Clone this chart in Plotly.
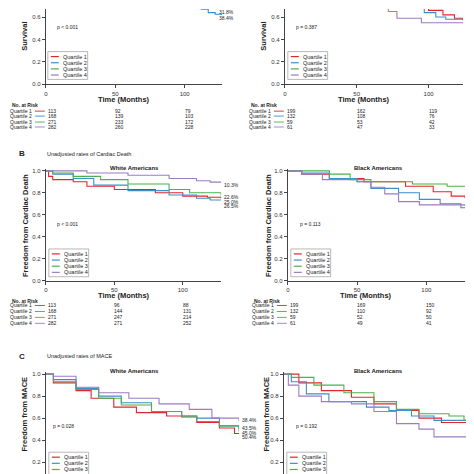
import plotly.graph_objects as go

W = 474
def X(p): return p / W
def Y(p): return 1 - p / W

COLORS = ["#e3262b", "#3b8fcc", "#4cb04f", "#9d7cc1"]
QUARTILES = ["Quartile 1", "Quartile 2", "Quartile 3", "Quartile 4"]

# ---- data: step curves (months, survival) ----
A_L_t = [[0, 10, 30, 60, 90, 110, 127], [0, 10, 30, 60, 90, 112, 117, 122, 127],
         [0, 10, 30, 60, 90, 115, 127], [0, 10, 30, 60, 90, 115, 127]]
A_L_s = [[1, 0.95, 0.88, 0.80, 0.74, 0.70, 0.682], [1, 0.96, 0.9, 0.83, 0.76, 0.67, 0.64, 0.625, 0.616],
         [1, 0.97, 0.92, 0.85, 0.79, 0.74, 0.72], [1, 0.98, 0.95, 0.9, 0.84, 0.77, 0.75]]
A_R_t = [[0, 20, 50, 80, 100, 110, 118, 124], [0, 20, 50, 80, 97, 105, 112, 124],
         [0, 20, 50, 80, 110, 124], [0, 20, 50, 72, 78, 95, 124]]
A_R_s = [[1, 0.93, 0.85, 0.74, 0.66, 0.62, 0.59, 0.571], [1, 0.92, 0.84, 0.73, 0.64, 0.6, 0.58, 0.571],
         [1, 0.95, 0.88, 0.8, 0.72, 0.7], [1, 0.9, 0.8, 0.65, 0.59, 0.55, 0.542]]
B_L_t = [[0, 2, 5, 20, 30, 50, 80, 100, 118, 128], [0, 5, 20, 35, 60, 90, 110, 120, 128],
         [0, 5, 20, 40, 60, 90, 105, 128], [0, 10, 30, 60, 90, 110, 120, 128]]
B_L_s = [[1, 0.95, 0.92, 0.90, 0.86, 0.83, 0.80, 0.77, 0.76, 0.75], [1, 0.97, 0.93, 0.87, 0.82, 0.78, 0.75, 0.735, 0.735],
         [1, 0.98, 0.95, 0.92, 0.88, 0.83, 0.80, 0.774], [1, 1.0, 0.98, 0.96, 0.93, 0.91, 0.897, 0.897]]
B_R_t = [[0, 10, 30, 55, 85, 105, 118, 128], [0, 10, 30, 50, 60, 80, 95, 110, 125, 128],
         [0, 30, 45, 60, 90, 115, 128], [0, 10, 25, 50, 60, 70, 80, 95, 128]]
B_R_s = [[1, 0.97, 0.93, 0.90, 0.86, 0.81, 0.77, 0.75], [1, 0.98, 0.93, 0.90, 0.84, 0.80, 0.74, 0.70, 0.664, 0.664],
         [1, 0.97, 0.92, 0.90, 0.88, 0.86, 0.86], [1, 0.97, 0.92, 0.90, 0.85, 0.79, 0.72, 0.69, 0.681]]
C_L_t = [[0, 5, 20, 30, 45, 60, 80, 90, 100, 115, 125, 128], [0, 5, 20, 35, 50, 70, 90, 100, 115, 128],
         [0, 5, 20, 35, 50, 70, 90, 100, 115, 128], [0, 5, 20, 35, 55, 75, 95, 110, 128]]
C_L_s = [[1, 0.92, 0.85, 0.78, 0.70, 0.65, 0.62, 0.61, 0.56, 0.51, 0.46, 0.46], [1, 0.95, 0.87, 0.80, 0.74, 0.66, 0.62, 0.60, 0.53, 0.48],
         [1, 0.93, 0.86, 0.78, 0.72, 0.66, 0.62, 0.57, 0.53, 0.50], [1, 0.98, 0.88, 0.83, 0.78, 0.73, 0.68, 0.60, 0.575]]
C_R_t = [[0, 10, 25, 45, 60, 75, 90, 105, 128], [0, 5, 15, 30, 55, 70, 85, 100, 125, 128],
         [0, 5, 20, 40, 60, 75, 90, 110, 120, 128], [0, 3, 10, 25, 45, 60, 75, 90, 100, 128]]
C_R_s = [[1, 0.92, 0.85, 0.79, 0.73, 0.67, 0.60, 0.56, 0.52], [1, 0.93, 0.82, 0.75, 0.70, 0.67, 0.62, 0.58, 0.55, 0.55],
         [1, 0.97, 0.90, 0.83, 0.75, 0.68, 0.64, 0.62, 0.58, 0.58], [1, 0.90, 0.80, 0.75, 0.73, 0.66, 0.55, 0.50, 0.43, 0.43]]

A_L_lab = ["31.8%", "38.4%", "", ""]; A_R_lab = ["42.9%", "42.9%", "", "45.8%"]
B_L_lab = ["25.0%", "26.5%", "22.6%", "10.3%"]; B_R_lab = ["25.0%", "33.6%", "14.0%", "31.9%"]
C_L_lab = ["50.4%", "45.0%", "43.5%", "38.4%"]; C_R_lab = ["43.2%", "43.2%", "41.8%", "54.4%"]

RISK_A_L = [[113, 92, 79], [168, 139, 103], [271, 233, 172], [282, 260, 228]]
RISK_A_R = [[199, 162, 119], [132, 108, 76], [59, 53, 42], [61, 47, 33]]
RISK_B_L = [[113, 96, 88], [168, 144, 131], [271, 247, 214], [282, 271, 252]]
RISK_B_R = [[199, 169, 150], [132, 110, 92], [59, 52, 50], [61, 49, 41]]
RISK_TIMES = [0, 50, 100]

panels = [
    dict(t=A_L_t, s=A_L_s, lab=A_L_lab, labx=207, laby=[3, 9, 0, 0], box=(36, 213, 0, 76), xr=[0, 127], yr=[0, 0.672], xline=True,
         ytitle="Survival", ytx=15, yty=27, p="p < 0.001", px=(45, 18), leg=(38, 46), risk=RISK_A_L, ry=(82, 91, 97, [103, 108, 114, 119])),
    dict(t=A_R_t, s=A_R_s, lab=A_R_lab, labx=455, laby=[14, 19, 0, 24], box=(276, 455, 0, 76), xr=[0, 124], yr=[0, 0.672], xline=True,
         ytitle="Survival", ytx=255, yty=27, p="p = 0.387", px=(285, 18), leg=(279, 46), risk=RISK_A_R, ry=(82, 91, 97, [103, 108, 114, 119])),
    dict(t=B_L_t, s=B_L_s, lab=B_L_lab, labx=212, laby=[195, 199, 190, 178], box=(36, 212, 161, 274), xr=[0, 128], yr=[0, 1.02], xline=True,
         ytitle="Freedom from Cardiac Death", ytx=15, yty=218, p="p < 0.001", px=(45, 217), leg=(39, 245), risk=RISK_B_L, ry=(280, 289, 294, [299, 305, 311, 317])),
    dict(t=B_R_t, s=B_R_s, lab=B_R_lab, labx=457, laby=[197, 201, 180, 206], box=(279, 457, 161, 274), xr=[0, 128], yr=[0, 1.02], xline=True,
         ytitle="Freedom from Cardiac Death", ytx=259, yty=218, p="p = 0.113", px=(289, 217), leg=(282, 245), risk=RISK_B_R, ry=(280, 289, 294, [299, 305, 311, 317])),
    dict(t=C_L_t, s=C_L_s, lab=C_L_lab, labx=230, laby=[432, 428, 423, 414], box=(36, 230, 366, 474), xr=[0, 128], yr=[0.047, 1.02], xline=False,
         ytitle="Freedom from MACE", ytx=15, yty=408, p="p = 0.028", px=(41, 421), leg=(39, 450), risk=None),
    dict(t=C_R_t, s=C_R_s, lab=C_R_lab, labx=466, laby=[416, 420, 412, 431], box=(275, 468, 366, 474), xr=[0, 128], yr=[0.047, 1.02], xline=False,
         ytitle="Freedom from MACE", ytx=258, yty=408, p="p = 0.192", px=(285, 421), leg=(278, 450), risk=None),
]

FONT = "Liberation Sans"
fig = go.Figure()
ann = []
shapes = []

def A(x, y, text, size=5.5, bold=False, xanchor="left", color="#222", angle=0):
    ann.append(dict(x=X(x), y=Y(y), xref="paper", yref="paper", text=f"<b>{text}</b>" if bold else text,
                    showarrow=False, xanchor=xanchor, yanchor="middle", textangle=angle,
                    font=dict(size=size, family=FONT, color=color)))

for i, P in enumerate(panels):
    n = i + 1
    xa = "x" if n == 1 else f"x{n}"
    ya = "y" if n == 1 else f"y{n}"
    x0, x1, yt, yb = P["box"]
    for q in range(4):
        fig.add_trace(go.Scatter(x=P["t"][q], y=P["s"][q], mode="lines", line=dict(color=COLORS[q], width=1.1, shape="hv"),
                                 xaxis=xa, yaxis=ya, showlegend=False, hoverinfo="skip"))
        if P["lab"][q]:
            A(P["labx"] + 1, P["laby"][q], P["lab"][q], size=5)
    fig.layout[f"xaxis{'' if n == 1 else n}"] = dict(
        domain=[X(x0), X(x1)], range=P["xr"], anchor=ya, showgrid=False, zeroline=False, showline=P["xline"], linecolor="#444",
        ticks="outside" if P["xline"] else "", ticklen=3, tickcolor="#444", showticklabels=P["xline"], tickvals=[0, 50, 100],
        tickfont=dict(size=6, family=FONT, color="#333"))
    fig.layout[f"yaxis{'' if n == 1 else n}"] = dict(
        domain=[Y(yb), Y(yt)], range=P["yr"], anchor=xa, showgrid=False, zeroline=False, showline=True, linecolor="#444",
        ticks="outside", ticklen=3, tickcolor="#444", tickvals=[0, 0.2, 0.4, 0.6, 0.8, 1.0], tickformat=".1f",
        tickfont=dict(size=6, family=FONT, color="#333"))
    A(P["ytx"], P["yty"], P["ytitle"], size=7.5, bold=True, xanchor="center", angle=-90)
    A(P["px"][0], P["px"][1], P["p"], size=5)
    lx, ly = P["leg"]
    shapes.append(dict(type="rect", xref="paper", yref="paper", x0=X(lx), x1=X(lx + 40), y0=Y(ly - 3), y1=Y(ly + 25),
                       line=dict(color="#888", width=0.6), fillcolor="white"))
    for q in range(4):
        yy = ly + 2 + q * 6.2
        shapes.append(dict(type="line", xref="paper", yref="paper", x0=X(lx + 3), x1=X(lx + 11), y0=Y(yy), y1=Y(yy),
                           line=dict(color=COLORS[q], width=1.2)))
        A(lx + 13, yy, QUARTILES[q], size=5.5)
    if P["xline"]:
        A((x0 + x1) / 2 - 10, P["ry"][1], "Time (Months)", size=7.5, bold=True, xanchor="center")
    if P["risk"]:
        r0 = P["ry"][2]
        A(x0 - 36, r0, "No. at Risk", size=5, bold=True)
        scale = (x1 - x0) / (P["xr"][1] - P["xr"][0])
        for q in range(4):
            yy = P["ry"][3][q]
            A(x0 - 12, yy, QUARTILES[q], size=5, xanchor="right")
            shapes.append(dict(type="line", xref="paper", yref="paper", x0=X(x0 - 11), x1=X(x0 - 1), y0=Y(yy), y1=Y(yy),
                               line=dict(color=COLORS[q], width=0.9)))
            for k, tm in enumerate(RISK_TIMES):
                A(x0 + tm * scale - (0 if k == 0 else 2), yy, str(P["risk"][q][k]), size=5)

A(7, 146, "B", size=8, bold=True)
A(35, 146, "Unadjusted rates of Cardiac Death", size=5.5)
A(7, 350, "C", size=8, bold=True)
A(35, 350, "Unadjusted rates of MACE", size=5.5)
for (cx, cy) in [(125, 160), (370, 160), (125, 365), (370, 365)]:
    A(cx, cy, "White Americans" if cx < 237 else "Black Americans", size=6, bold=True, xanchor="center")

fig.update_layout(width=W, height=W, margin=dict(l=0, r=0, t=0, b=0), paper_bgcolor="white", plot_bgcolor="white",
                  annotations=ann, shapes=shapes, showlegend=False)
fig.write_html("out.html")
